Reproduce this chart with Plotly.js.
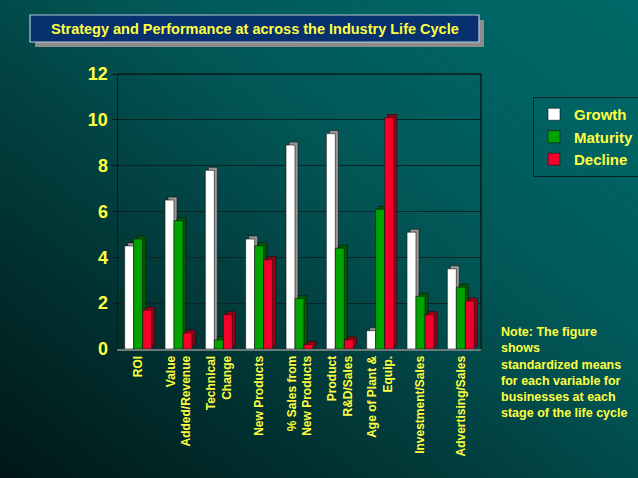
<!DOCTYPE html>
<html>
<head>
<meta charset="utf-8">
<script src="https://cdn.plot.ly/plotly-3.0.1.min.js"></script>
<style>
    html, body { margin: 0; padding: 0; }
    body {
        width: 638px;
        height: 478px;
        background: linear-gradient(to top right, #001616 0%, #023a3a 35%, #025656 60%, #006464 85%, #006868 100%);
        overflow: hidden;
    }
    #chart { width: 638px; height: 478px; }
</style>
</head>
<body>
<div id="chart"></div>
<script>
// Data
const categories = [
    'ROI',
    'Value<br>Added/Revenue',
    'Technical<br>Change',
    'New Products',
    '% Sales from<br>New Products',
    'Product<br>R&D/Sales',
    'Age of Plant &<br>Equip.',
    'Investment/Sales',
    'Advertising/Sales',
];
const growth = [4.5, 6.5, 7.8, 4.8, 8.9, 9.4, 0.8, 5.1, 3.5];
const maturity = [4.8, 5.6, 0.4, 4.5, 2.2, 4.4, 6.1, 2.3, 2.7];
const decline = [1.7, 0.7, 1.5, 3.9, 0.2, 0.4, 10.1, 1.5, 2.1];

const yellow = '#ffff40';
const font = 'Arial, "Liberation Sans", sans-serif';

// front colour, side colour, offset in the group
const series = [
    { name: 'Growth', y: growth, face: '#ffffff', side: '#9a9a9a', offset: -0.335 },
    { name: 'Maturity', y: maturity, face: '#00a400', side: '#005a00', offset: -0.112 },
    { name: 'Decline', y: decline, face: '#f4002c', side: '#9a0018', offset: 0.112 },
];
const barWidth = 0.223;
const depthX = 0.075;   // fake 3d side, in category units
const depthY = 0.13;    // fake 3d top, in value units

const traces = [];
series.forEach(s => {
    // side/top face drawn first, shifted up and right
    traces.push({
        type: 'bar',
        x: categories,
        y: s.y,
        base: s.y.map(() => depthY),
        offset: s.offset + depthX,
        width: barWidth,
        marker: { color: s.side, line: { color: '#111', width: 0.6 } },
        showlegend: false,
        hoverinfo: 'skip',
    });
    traces.push({
        type: 'bar',
        x: categories,
        y: s.y,
        name: s.name,
        offset: s.offset,
        width: barWidth,
        marker: { color: s.face, line: { color: '#111', width: 0.6 } },
    });
});

// plot area: x 118..481, y 74..349 (px)
const px = v => (v - 118) / 363;
const py = v => (349 - v) / 275;

const layout = {
    width: 638,
    height: 478,
    margin: { l: 118, r: 157, t: 74, b: 129, autoexpand: false },
    paper_bgcolor: 'rgba(0,0,0,0)',
    plot_bgcolor: 'rgba(0,0,0,0)',
    barmode: 'overlay',
    font: { family: font, color: yellow },
    xaxis: {
        type: 'category',
        tickangle: -90,
        tickfont: { family: font, size: 12, color: yellow, weight: 'bold' },
        showline: true,
        linecolor: '#6a7a7a',
        linewidth: 2,
        ticks: '',
        showgrid: false,
        range: [-0.5, 8.5],
    },
    yaxis: {
        range: [0, 12],
        dtick: 2,
        tickfont: { family: font, size: 18, color: yellow, weight: 'bold' },
        ticks: 'outside',
        ticklen: 5,
        tickcolor: '#0a1a1a',
        showline: true,
        linecolor: '#0a1a1a',
        linewidth: 1.5,
        gridcolor: '#0b2424',
        gridwidth: 1.2,
        zeroline: false,
    },
    legend: {
        x: px(533),
        y: py(97),
        xanchor: 'left',
        yanchor: 'top',
        bgcolor: 'rgba(0,0,0,0)',
        bordercolor: '#0a2222',
        borderwidth: 1,
        font: { family: font, size: 15, color: yellow, weight: 'bold' },
        itemwidth: 30,
    },
    shapes: [
        // title box shadow
        {
            type: 'rect', xref: 'paper', yref: 'paper', layer: 'below',
            x0: px(35), x1: px(484), y0: py(47), y1: py(20),
            fillcolor: '#8c8c8c', line: { width: 0 },
        },
        // title box
        {
            type: 'rect', xref: 'paper', yref: 'paper', layer: 'below',
            x0: px(30), x1: px(479), y0: py(42), y1: py(15),
            fillcolor: '#06306e', line: { color: '#b8c8d8', width: 1.2 },
        },
        // right wall edge
        {
            type: 'line', xref: 'paper', yref: 'paper',
            x0: 1, x1: 1, y0: 0, y1: 1,
            line: { color: '#0a1a1a', width: 1.5 },
        },
        // top edge
        {
            type: 'line', xref: 'paper', yref: 'paper',
            x0: 0, x1: 1, y0: 1, y1: 1,
            line: { color: '#0a1a1a', width: 1.5 },
        },
    ],
    annotations: [
        {
            xref: 'paper', yref: 'paper',
            x: px(255), y: py(29),
            xanchor: 'center', yanchor: 'middle',
            text: 'Strategy and Performance at across the Industry Life Cycle',
            showarrow: false,
            font: { family: font, size: 14.5, color: yellow, weight: 'bold' },
        },
        {
            xref: 'paper', yref: 'paper',
            x: px(499), y: py(323),
            xanchor: 'left', yanchor: 'top',
            align: 'left',
            text: 'Note: The figure<br>shows<br>standardized means<br>for each variable for<br>businesses at each<br>stage of the life cycle',
            showarrow: false,
            font: { family: font, size: 12.5, color: yellow, weight: 'bold' },
        },
    ],
};

Plotly.newPlot('chart', traces, layout, { displayModeBar: false, staticPlot: true });
</script>
</body>
</html>
